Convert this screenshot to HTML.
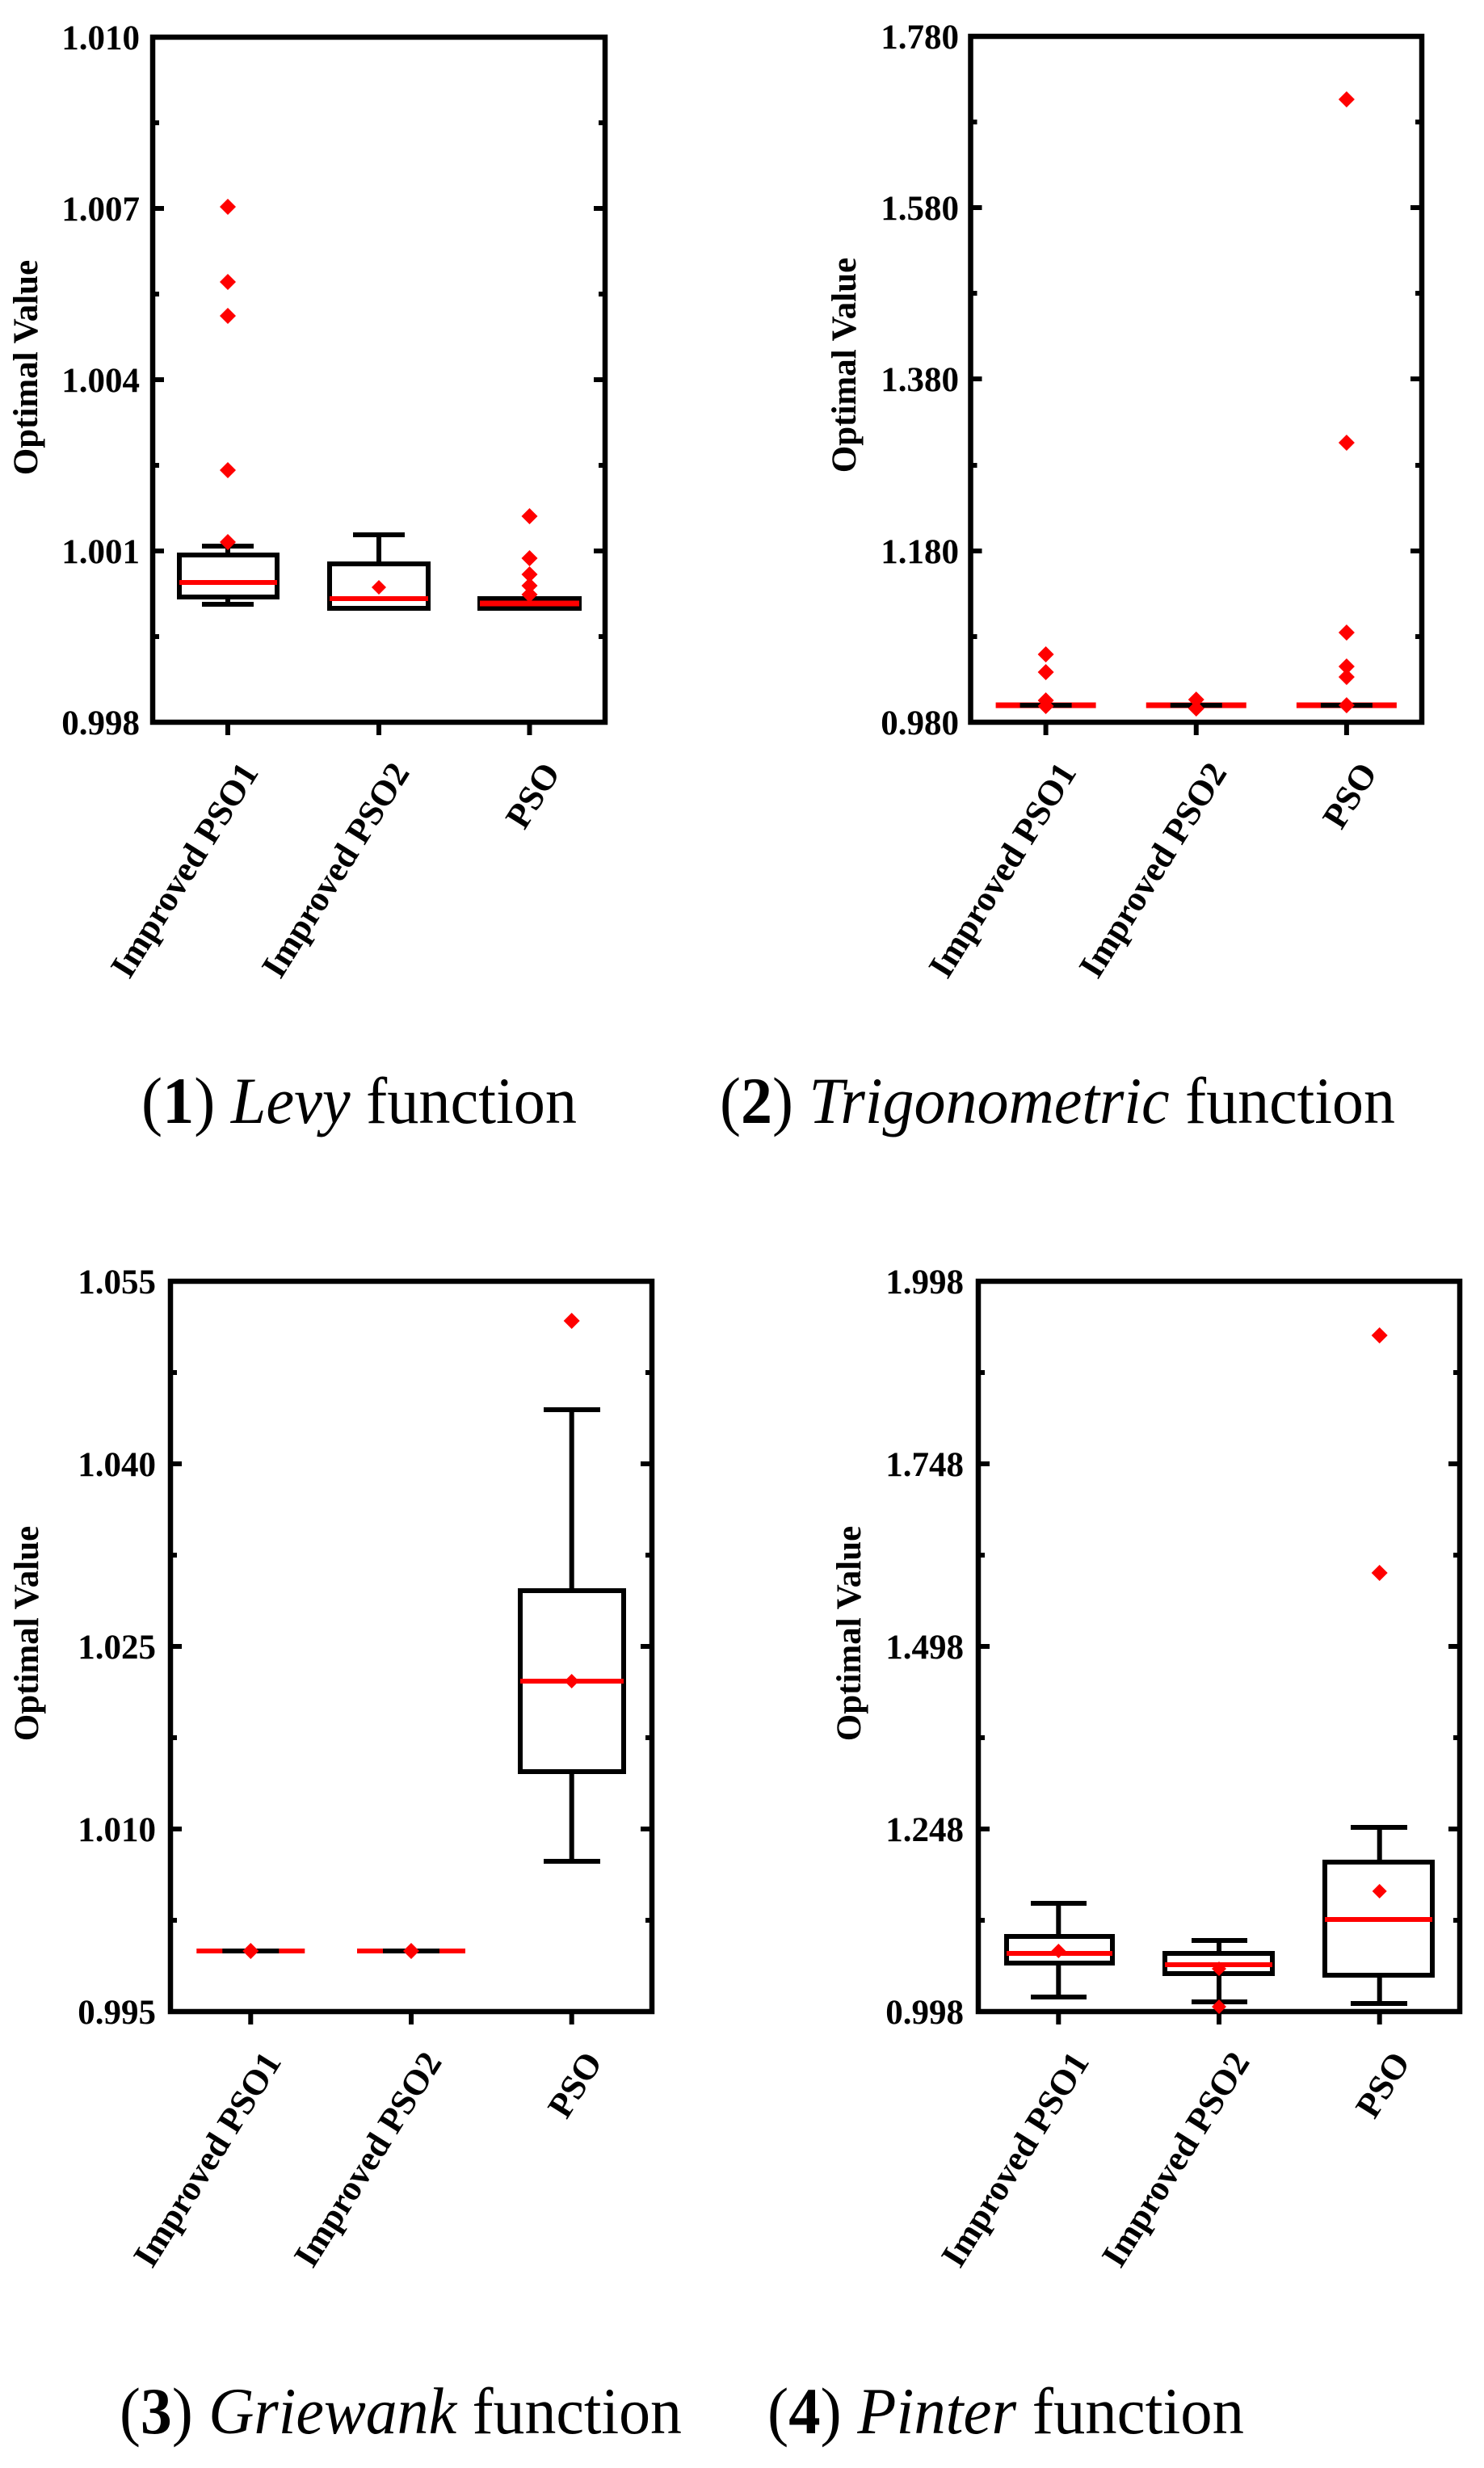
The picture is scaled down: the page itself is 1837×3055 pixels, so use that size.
<!DOCTYPE html>
<html>
<head>
<meta charset="utf-8">
<style>
  html, body { margin: 0; padding: 0; background: #ffffff; }
  svg { display: block; }
  .tl { font-family: "Liberation Serif", serif; font-weight: bold; font-size: 43px; fill: #000; }
  .xl { font-family: "Liberation Serif", serif; font-weight: bold; font-size: 44px; fill: #000; }
  .ti { font-family: "Liberation Serif", serif; font-weight: bold; font-size: 43px; fill: #000; }
  .cap { font-family: "Liberation Serif", serif; font-size: 82px; fill: #000; }
</style>
</head>
<body>
<svg width="1837" height="3055" viewBox="0 0 1837 3055" xmlns="http://www.w3.org/2000/svg">
<defs>
  <path id="d" d="M0,-10 L10,0 L0,10 L-10,0Z" fill="#ff0000"/>
  <path id="m" d="M0,-9 L9,0 L0,9 L-9,0Z" fill="#ff0000"/>
</defs>
<rect width="1837" height="3055" fill="#ffffff"/>

<!-- ================= PANEL 1 ================= -->
<g stroke="#000" stroke-width="6" fill="none">
  <line x1="189" y1="258" x2="203" y2="258"/><line x1="189" y1="470" x2="203" y2="470"/><line x1="189" y1="682" x2="203" y2="682"/>
  <line x1="189" y1="152" x2="197" y2="152"/><line x1="189" y1="364" x2="197" y2="364"/><line x1="189" y1="576" x2="197" y2="576"/><line x1="189" y1="788" x2="197" y2="788"/>
  <line x1="749" y1="258" x2="735" y2="258"/><line x1="749" y1="470" x2="735" y2="470"/><line x1="749" y1="682" x2="735" y2="682"/>
  <line x1="749" y1="152" x2="741" y2="152"/><line x1="749" y1="364" x2="741" y2="364"/><line x1="749" y1="576" x2="741" y2="576"/><line x1="749" y1="788" x2="741" y2="788"/>
  <line x1="282" y1="894" x2="282" y2="910"/><line x1="469" y1="894" x2="469" y2="910"/><line x1="655.5" y1="894" x2="655.5" y2="910"/>
</g>
<rect x="189" y="46" width="560" height="848" fill="none" stroke="#000" stroke-width="6.5"/>
<g class="tl" text-anchor="end">
  <text x="173" y="61">1.010</text>
  <text x="173" y="273">1.007</text>
  <text x="173" y="485">1.004</text>
  <text x="173" y="697">1.001</text>
  <text x="173" y="909">0.998</text>
</g>
<text class="ti" transform="translate(46,455) rotate(-90)" text-anchor="middle">Optimal Value</text>
<g stroke="#000" stroke-width="6" fill="none">
  <line x1="282" y1="676" x2="282" y2="687"/><line x1="282" y1="739" x2="282" y2="748"/>
  <line x1="250" y1="676" x2="314" y2="676"/><line x1="250" y1="748" x2="314" y2="748"/>
  <rect x="222" y="687" width="121" height="52"/>
  <line x1="469" y1="662" x2="469" y2="698"/>
  <line x1="437" y1="662" x2="501" y2="662"/><line x1="437" y1="753" x2="501" y2="753"/>
  <rect x="408" y="698" width="122" height="55"/>
  <line x1="624" y1="753" x2="687" y2="753"/>
  <rect x="594" y="741" width="123" height="12"/>
</g>
<g stroke="#ff0000" stroke-width="6">
  <line x1="222" y1="721" x2="343" y2="721"/>
  <line x1="408" y1="741" x2="530" y2="741"/>
  <line x1="594" y1="747" x2="717" y2="747" stroke-width="7"/>
</g>
<use href="#d" x="282" y="256"/><use href="#d" x="282" y="349"/><use href="#d" x="282" y="391"/><use href="#d" x="282" y="582"/><use href="#d" x="282" y="671"/>
<use href="#m" x="469" y="727"/>
<use href="#d" x="655.5" y="639"/><use href="#d" x="655.5" y="691"/><use href="#d" x="655.5" y="711"/><use href="#d" x="655.5" y="725"/><use href="#d" x="655.5" y="736"/>
<g class="xl" text-anchor="end">
  <text transform="translate(321,956) rotate(-58)">Improved PSO1</text>
  <text transform="translate(508,956) rotate(-58)">Improved PSO2</text>
  <text transform="translate(694.5,956) rotate(-58)">PSO</text>
</g>

<!-- ================= PANEL 2 ================= -->
<g stroke="#000" stroke-width="6" fill="none">
  <line x1="1201.5" y1="257" x2="1215.5" y2="257"/><line x1="1201.5" y1="469" x2="1215.5" y2="469"/><line x1="1201.5" y1="682" x2="1215.5" y2="682"/>
  <line x1="1201.5" y1="151" x2="1209.5" y2="151"/><line x1="1201.5" y1="363" x2="1209.5" y2="363"/><line x1="1201.5" y1="576" x2="1209.5" y2="576"/><line x1="1201.5" y1="788" x2="1209.5" y2="788"/>
  <line x1="1760" y1="257" x2="1746" y2="257"/><line x1="1760" y1="469" x2="1746" y2="469"/><line x1="1760" y1="682" x2="1746" y2="682"/>
  <line x1="1760" y1="151" x2="1752" y2="151"/><line x1="1760" y1="363" x2="1752" y2="363"/><line x1="1760" y1="576" x2="1752" y2="576"/><line x1="1760" y1="788" x2="1752" y2="788"/>
  <line x1="1294.6" y1="894" x2="1294.6" y2="910"/><line x1="1480.75" y1="894" x2="1480.75" y2="910"/><line x1="1666.9" y1="894" x2="1666.9" y2="910"/>
</g>
<rect x="1201.5" y="45" width="558.5" height="849" fill="none" stroke="#000" stroke-width="6.5"/>
<g class="tl" text-anchor="end">
  <text x="1187" y="60">1.780</text>
  <text x="1187" y="272">1.580</text>
  <text x="1187" y="484">1.380</text>
  <text x="1187" y="697">1.180</text>
  <text x="1187" y="909">0.980</text>
</g>
<text class="ti" transform="translate(1059,452) rotate(-90)" text-anchor="middle">Optimal Value</text>
<g stroke="#ff0000" stroke-width="7">
  <line x1="1232.6" y1="873" x2="1356.6" y2="873"/>
  <line x1="1418.75" y1="873" x2="1542.75" y2="873"/>
  <line x1="1604.9" y1="873" x2="1728.9" y2="873"/>
</g>
<g stroke="#000" stroke-width="6">
  <line x1="1262.6" y1="873" x2="1326.6" y2="873"/>
  <line x1="1448.75" y1="873" x2="1512.75" y2="873"/>
  <line x1="1634.9" y1="873" x2="1698.9" y2="873"/>
</g>
<use href="#d" x="1294.6" y="810"/><use href="#d" x="1294.6" y="832"/><use href="#d" x="1294.6" y="867"/><use href="#d" x="1294.6" y="874"/>
<use href="#d" x="1480.75" y="866"/><use href="#d" x="1480.75" y="877"/>
<use href="#d" x="1666.9" y="123"/><use href="#d" x="1666.9" y="548"/><use href="#d" x="1666.9" y="783"/><use href="#d" x="1666.9" y="825"/><use href="#d" x="1666.9" y="838"/><use href="#d" x="1666.9" y="873"/>
<g class="xl" text-anchor="end">
  <text transform="translate(1333.6,956) rotate(-58)">Improved PSO1</text>
  <text transform="translate(1519.75,956) rotate(-58)">Improved PSO2</text>
  <text transform="translate(1705.9,956) rotate(-58)">PSO</text>
</g>

<!-- ================= PANEL 3 ================= -->
<g stroke="#000" stroke-width="6" fill="none">
  <line x1="211" y1="1812" x2="225" y2="1812"/><line x1="211" y1="2038" x2="225" y2="2038"/><line x1="211" y1="2264" x2="225" y2="2264"/>
  <line x1="211" y1="1699" x2="219" y2="1699"/><line x1="211" y1="1925" x2="219" y2="1925"/><line x1="211" y1="2151" x2="219" y2="2151"/><line x1="211" y1="2377" x2="219" y2="2377"/>
  <line x1="807" y1="1812" x2="793" y2="1812"/><line x1="807" y1="2038" x2="793" y2="2038"/><line x1="807" y1="2264" x2="793" y2="2264"/>
  <line x1="807" y1="1699" x2="799" y2="1699"/><line x1="807" y1="1925" x2="799" y2="1925"/><line x1="807" y1="2151" x2="799" y2="2151"/><line x1="807" y1="2377" x2="799" y2="2377"/>
  <line x1="310.3" y1="2490" x2="310.3" y2="2506"/><line x1="509" y1="2490" x2="509" y2="2506"/><line x1="707.7" y1="2490" x2="707.7" y2="2506"/>
</g>
<rect x="211" y="1586" width="596" height="904" fill="none" stroke="#000" stroke-width="6.5"/>
<g class="tl" text-anchor="end">
  <text x="193" y="1601">1.055</text>
  <text x="193" y="1827">1.040</text>
  <text x="193" y="2053">1.025</text>
  <text x="193" y="2279">1.010</text>
  <text x="193" y="2505">0.995</text>
</g>
<text class="ti" transform="translate(47,2022) rotate(-90)" text-anchor="middle">Optimal Value</text>
<g stroke="#ff0000" stroke-width="6">
  <line x1="243.3" y1="2415" x2="377.3" y2="2415"/>
  <line x1="442" y1="2415" x2="576" y2="2415"/>
</g>
<g stroke="#000" stroke-width="6" fill="none">
  <line x1="275.3" y1="2415" x2="345.3" y2="2415"/>
  <line x1="474" y1="2415" x2="544" y2="2415"/>
  <line x1="707.7" y1="1745" x2="707.7" y2="1969"/><line x1="707.7" y1="2193" x2="707.7" y2="2304"/>
  <line x1="673" y1="1745" x2="743" y2="1745"/><line x1="673" y1="2304" x2="743" y2="2304"/>
  <rect x="644" y="1969" width="128" height="224"/>
</g>
<line x1="644" y1="2081" x2="772" y2="2081" stroke="#ff0000" stroke-width="6"/>
<use href="#d" x="310.3" y="2415"/><use href="#d" x="509" y="2415"/>
<use href="#m" x="707.7" y="2081"/><use href="#d" x="707.7" y="1635"/>
<g class="xl" text-anchor="end">
  <text transform="translate(349.3,2552) rotate(-58)">Improved PSO1</text>
  <text transform="translate(548,2552) rotate(-58)">Improved PSO2</text>
  <text transform="translate(746.7,2552) rotate(-58)">PSO</text>
</g>

<!-- ================= PANEL 4 ================= -->
<g stroke="#000" stroke-width="6" fill="none">
  <line x1="1211" y1="1812" x2="1225" y2="1812"/><line x1="1211" y1="2038" x2="1225" y2="2038"/><line x1="1211" y1="2264" x2="1225" y2="2264"/>
  <line x1="1211" y1="1699" x2="1219" y2="1699"/><line x1="1211" y1="1925" x2="1219" y2="1925"/><line x1="1211" y1="2151" x2="1219" y2="2151"/><line x1="1211" y1="2377" x2="1219" y2="2377"/>
  <line x1="1807" y1="1812" x2="1793" y2="1812"/><line x1="1807" y1="2038" x2="1793" y2="2038"/><line x1="1807" y1="2264" x2="1793" y2="2264"/>
  <line x1="1807" y1="1699" x2="1799" y2="1699"/><line x1="1807" y1="1925" x2="1799" y2="1925"/><line x1="1807" y1="2151" x2="1799" y2="2151"/><line x1="1807" y1="2377" x2="1799" y2="2377"/>
  <line x1="1310.3" y1="2490" x2="1310.3" y2="2506"/><line x1="1509" y1="2490" x2="1509" y2="2506"/><line x1="1707.7" y1="2490" x2="1707.7" y2="2506"/>
</g>
<rect x="1211" y="1586" width="596" height="904" fill="none" stroke="#000" stroke-width="6.5"/>
<g class="tl" text-anchor="end">
  <text x="1193" y="1601">1.998</text>
  <text x="1193" y="1827">1.748</text>
  <text x="1193" y="2053">1.498</text>
  <text x="1193" y="2279">1.248</text>
  <text x="1193" y="2505">0.998</text>
</g>
<text class="ti" transform="translate(1065,2022) rotate(-90)" text-anchor="middle">Optimal Value</text>
<g stroke="#000" stroke-width="6" fill="none">
  <line x1="1310.3" y1="2356" x2="1310.3" y2="2397"/><line x1="1310.3" y1="2430" x2="1310.3" y2="2472"/>
  <line x1="1276" y1="2356" x2="1345" y2="2356"/><line x1="1276" y1="2472" x2="1345" y2="2472"/>
  <rect x="1246" y="2397" width="131" height="33"/>
  <line x1="1509" y1="2402" x2="1509" y2="2418"/><line x1="1509" y1="2443" x2="1509" y2="2478"/>
  <line x1="1475" y1="2402" x2="1544" y2="2402"/><line x1="1475" y1="2478" x2="1544" y2="2478"/>
  <rect x="1442" y="2418" width="133" height="25"/>
  <line x1="1707.7" y1="2262" x2="1707.7" y2="2305"/><line x1="1707.7" y1="2445" x2="1707.7" y2="2480"/>
  <line x1="1672" y1="2262" x2="1742" y2="2262"/><line x1="1672" y1="2480" x2="1742" y2="2480"/>
  <rect x="1640" y="2305" width="133" height="140"/>
</g>
<g stroke="#ff0000" stroke-width="6">
  <line x1="1246" y1="2418" x2="1377" y2="2418"/>
  <line x1="1442" y1="2432" x2="1575" y2="2432"/>
  <line x1="1640" y1="2376" x2="1773" y2="2376"/>
</g>
<use href="#m" x="1310.3" y="2415"/>
<use href="#m" x="1509" y="2437"/><use href="#m" x="1509" y="2484"/>
<use href="#m" x="1707.7" y="2341"/>
<use href="#d" x="1707.7" y="1653"/><use href="#d" x="1707.7" y="1947"/>
<g class="xl" text-anchor="end">
  <text transform="translate(1349.3,2552) rotate(-58)">Improved PSO1</text>
  <text transform="translate(1548,2552) rotate(-58)">Improved PSO2</text>
  <text transform="translate(1746.7,2552) rotate(-58)">PSO</text>
</g>

<!-- ================= CAPTIONS ================= -->
<text class="cap" x="175" y="1390" textLength="539" lengthAdjust="spacingAndGlyphs">(<tspan font-weight="bold">1</tspan>) <tspan font-style="italic">Levy</tspan> function</text>
<text class="cap" x="891" y="1390" textLength="836" lengthAdjust="spacingAndGlyphs">(<tspan font-weight="bold">2</tspan>) <tspan font-style="italic">Trigonometric</tspan> function</text>
<text class="cap" x="148" y="3012" textLength="696" lengthAdjust="spacingAndGlyphs">(<tspan font-weight="bold">3</tspan>) <tspan font-style="italic">Griewank</tspan> function</text>
<text class="cap" x="950" y="3012" textLength="590" lengthAdjust="spacingAndGlyphs">(<tspan font-weight="bold">4</tspan>) <tspan font-style="italic">Pinter</tspan> function</text>
</svg>
</body>
</html>
